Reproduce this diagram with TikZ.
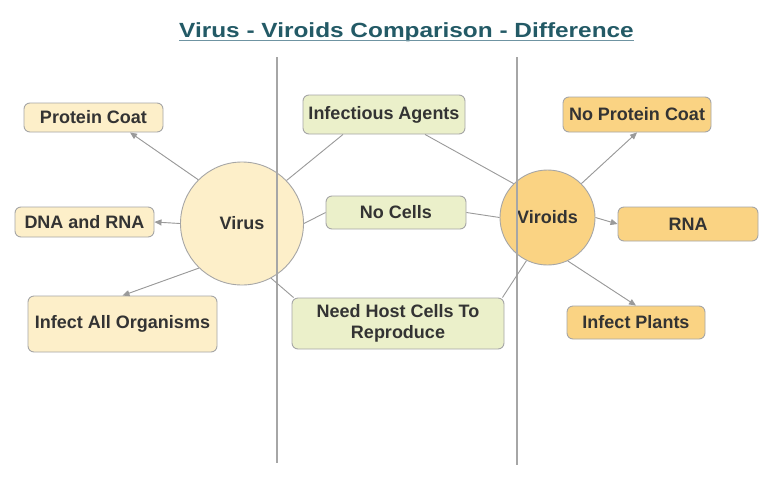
\documentclass[tikz,border=0pt]{standalone}
\usepackage{fontspec}
\usepackage{graphicx}
\setmainfont{Liberation Sans}
\usetikzlibrary{arrows.meta}
\definecolor{titlec}{HTML}{235A66}
\definecolor{ulinec}{HTML}{6F94A2}
\definecolor{cream}{HTML}{FDEFC9}
\definecolor{greenc}{HTML}{EBF0CA}
\definecolor{orangec}{HTML}{FAD383}
\definecolor{bordc}{HTML}{A6A6A6}
\definecolor{linec}{HTML}{9A9A9A}
\definecolor{txtc}{HTML}{333333}
\tikzset{
  box/.style={draw=bordc, line width=0.9pt, rounded corners=6pt, inner sep=0pt,
    text=txtc, font=\fontsize{18}{20.5}\selectfont\bfseries, align=center},
  creambox/.style={box, fill=cream},
  greenbox/.style={box, fill=greenc},
  orangebox/.style={box, fill=orangec},
  bubble/.style={circle, draw=bordc, line width=0.9pt, inner sep=0pt, text=txtc,
    font=\fontsize{18}{20}\selectfont\bfseries},
  conn/.style={draw=linec, line width=0.9pt},
  arr/.style={conn, -{Triangle[length=7pt,width=6pt]}, fill=linec},
  divider/.style={draw=bordc, line width=1.1pt}
}
\begin{document}
\begin{tikzpicture}[x=1pt,y=-1pt]
\useasboundingbox[fill=white] (0,0) rectangle (768,480);

% title
\node[text=titlec, font=\fontsize{20.5}{24}\selectfont\bfseries, inner sep=0pt, anchor=base] (title) at (406.5,37.3) {\scalebox{1.19}[1]{Virus - Viroids Comparison - Difference}};
\coordinate (ul1) at (179,40.3); \coordinate (ul2) at (634,40.3);
\draw[ulinec, line width=1.6pt] (ul1) -- (ul2);

% circles
\node[bubble, fill=cream, minimum size=123pt] (virus) at (242,223.5) {Virus};
\node[bubble, fill=orangec, minimum size=95pt] (vd) at (547.5,217.5) {Viroids};

% left boxes
\node[creambox, minimum width=139pt, minimum height=29pt] (pc) at (93.5,117.5) {Protein Coat};
\node[creambox, minimum width=139pt, minimum height=30pt] (dna) at (84.5,222) {DNA and RNA};
\node[creambox, minimum width=189pt, minimum height=56pt] (ia) at (122.5,324) {Infect All Organisms};

% middle boxes
\node[greenbox, minimum width=162pt, minimum height=39pt] (ag) at (384,114.5) {Infectious Agents};
\node[greenbox, minimum width=140pt, minimum height=33pt] (nc) at (396,212.5) {No Cells};
\node[greenbox, minimum width=212pt, minimum height=51pt] (nh) at (398,323.5) {Need Host Cells To\\Reproduce};

% right boxes
\node[orangebox, minimum width=148pt, minimum height=35pt] (npc) at (637,114.5) {No Protein Coat};
\node[orangebox, minimum width=140pt, minimum height=34pt] (rna) at (688,224) {RNA};
\node[orangebox, minimum width=138pt, minimum height=33pt] (ip) at (636,322.5) {Infect Plants};

% dividers
\coordinate (d1t) at (277,57); \coordinate (d1b) at (277,463);
\coordinate (d2t) at (517,57); \coordinate (d2b) at (517,465);
\draw[divider] (d1t) -- (d1b);
\draw[divider] (d2t) -- (d2b);

% connectors
\draw[arr] (virus.135) -- ([xshift=36.5pt]pc.south);
\draw[arr] (virus.west) -- (dna.east);
\draw[arr] (virus.226) -- (ia.north);

\draw[conn] (virus.44) -- ([xshift=-41pt]ag.south);
\draw[conn] ([xshift=41pt]ag.south) -- (vd.135);
\draw[conn] (virus.east) -- (nc.west);
\draw[conn] (nc.east) -- (vd.west);
\draw[conn] (virus.-62) -- ([xshift=2pt]nh.north west);
\draw[conn] ([xshift=-2pt]nh.north east) -- (vd.244);

\draw[arr] (vd.45) -- (npc.south);
\draw[arr] (vd.east) -- (rna.west);
\draw[arr] (vd.-65) -- (ip.north);
\end{tikzpicture}
\end{document}
